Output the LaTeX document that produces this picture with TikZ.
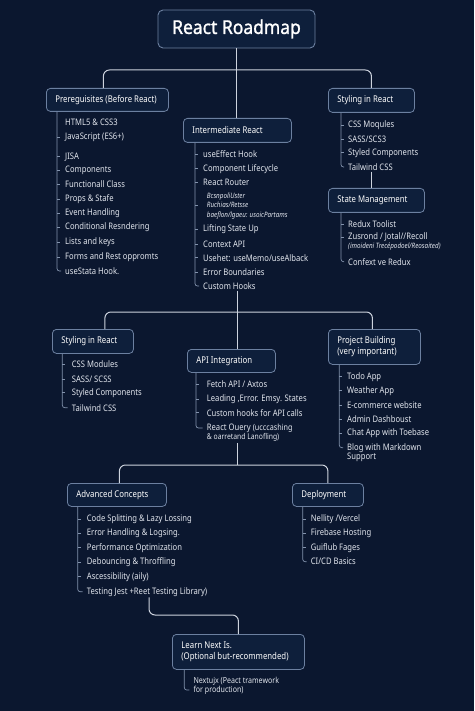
\documentclass[tikz,border=0pt]{standalone}
\usepackage{fontspec}
\setmainfont{Noto Sans}
\newfontfamily\condsans[FakeStretch=0.85]{Noto Sans}
\newfontfamily\topicsans[FakeStretch=0.84]{Noto Sans}
\newfontfamily\headsans[FakeStretch=0.92, FakeBold=1.2]{Noto Sans}
\usetikzlibrary{positioning, calc}
\definecolor{navybg}{RGB}{11,23,47}
\definecolor{boxfill}{RGB}{14,31,59}
\definecolor{boxline}{RGB}{108,128,160}
\definecolor{wireclr}{RGB}{205,211,222}
\definecolor{twigclr}{RGB}{130,146,172}
\definecolor{itemtxt}{RGB}{226,230,238}

\begin{document}
\begin{tikzpicture}[x=1pt, y=-1pt,
    headbox/.style={draw=boxline, line width=0.9pt, fill=boxfill, rounded corners=5pt,
        minimum width=157pt, minimum height=38pt, text=white,
        font=\headsans\fontsize{19}{22}\selectfont},
    topic/.style={draw=boxline, line width=0.8pt, fill=boxfill, rounded corners=4pt,
        anchor=north west, inner xsep=9pt, inner ysep=0pt, align=flush left, text=white,
        font=\topicsans\fontsize{9.3}{11.3}\selectfont},
    item/.style={anchor=west, inner sep=1pt, text=itemtxt, font=\condsans\fontsize{9}{10}\selectfont},
    note/.style={anchor=west, inner sep=1pt, align=left, text=itemtxt,
        font=\condsans\itshape\fontsize{7.4}{9.5}\selectfont},
    small/.style={item, font=\condsans\fontsize{8}{9.5}\selectfont},
    wire/.style={draw=wireclr, line width=1pt, rounded corners=6pt},
    twig/.style={draw=twigclr, line width=0.7pt, rounded corners=2.5pt}
]
\fill[navybg] (0,0) rectangle (474,711);
\useasboundingbox (0,0) rectangle (474,711);

% title and first row
\node[headbox] (ttl) at (236.5,29) {React Roadmap};
\node[topic, text width=104pt, minimum height=23pt] (prq) at (46,88) {Prereguisites (Before React)};
\node[topic, text width=90pt, minimum height=24pt] (int) at (183,118) {Intermediate React};
\node[topic, text width=68pt, minimum height=24pt] (sty1) at (328,88) {Styling in React};
\node[topic, text width=78pt, minimum height=24pt] (stm) at (328,188) {State Management};

\coordinate (hub1) at (237,70);
\draw[wire] (ttl.south) -- (ttl.south |- int.north);
\draw[wire] ([xshift=-4pt]prq.north) |- (hub1) -| (sty1.north);

% prerequisites
\foreach \yy/\txt [count=\i] in {122.7/HTML5 \& CSS3, 137.7/JavaScript (ES6+), 156.7/JISA,
    170/Components, 184/Functionall Class, 199/Props \& Stafe, 213/Event Handling,
    227/Conditional Resndering, 242/Lists and keys, 257/Forms and Rest oppromts, 271/useStata Hook.}
  \node[item] (prq\i) at (64,\yy) {\txt};
\coordinate (prqL) at ([xshift=11pt]prq.south west);
\foreach \i in {2,...,10} \draw[twig] (prqL |- prq\i.west) -- ++(3,0);
\draw[twig] (prqL) |- ([xshift=-3pt]prq11.west);

% intermediate
\foreach \yy/\txt [count=\i] in {154/useEffect Hook, 168.7/Component Lifecycle, 182.7/React Router,
    229/Lifting State Up, 244/Context API, 257.7/{Usehet: useMemo/useAlback},
    272/Error Boundaries, 286/Custom Hooks}
  \node[item] (int\i) at (202,\yy) {\txt};
\node[note] (intn) at (205.7,205.7) {BcsnpoliUster\\Ruchias/Retsse\\baeflon/lgaeu: usoicPartams};
\coordinate (intL) at ([xshift=12pt]int.south west);
\foreach \i in {1,...,7} \draw[twig] (intL |- int\i.west) -- ++(3,0);
\draw[twig] (intL |- intn.west) -- ++(3,0);
\draw[twig] (intL) |- ([xshift=-3pt]int8.west);

% styling (top)
\foreach \yy/\txt [count=\i] in {125/CSS Moqules, 139/{SASS/SCS3}, 152.7/Styled Components, 167/Tailwind CSS}
  \node[item] (sty1\i) at (347,\yy) {\txt};
\coordinate (sty1L) at ([xshift=13pt]sty1.south west);
\foreach \i in {1,...,3} \draw[twig] (sty1L |- sty1\i.west) -- ++(3,0);
\draw[twig] (sty1L) |- ([xshift=-3pt]sty14.west);
\draw[wire] (sty14.south -| sty1.south) -- (stm.north -| sty1.south);

% state management
\foreach \yy/\txt [count=\i] in {224/Redux Toolist, 237/{Zusrond / Jotal//Recoll}, 261.7/Confext ve Redux}
  \node[item] (stm\i) at (347,\yy) {\txt};
\node[note] (stmn) at (347,246.7) {(imoideni Trecépodoel/Reosaited)};
\coordinate (stmL) at ([xshift=13pt]stm.south west);
\foreach \i in {1,2} \draw[twig] (stmL |- stm\i.west) -- ++(3,0);
\draw[twig] (stmL) |- ([xshift=-3pt]stm3.west);

% second row
\node[topic, text width=63pt, minimum height=24pt] (sty2) at (52,329) {Styling in React};
\node[topic, text width=70pt, minimum height=23pt] (api) at (187,349) {API Integration};
\node[topic, text width=74pt, minimum height=35pt] (prj) at (328,329) {Project Building\\(very important)};

\coordinate (hub2) at (237,312);
\draw[wire] (int8.south -| hub2) -- (api.north -| hub2);
\draw[wire] ([xshift=12pt]sty2.north) |- (hub2) -| ([xshift=-2pt]prj.north);

\foreach \yy/\txt [count=\i] in {364/CSS Modules, 379/{SASS/ SCSS}, 392.7/Styled Components, 407.7/Tailwind CSS}
  \node[item] (sty2\i) at (70.7,\yy) {\txt};
\coordinate (sty2L) at ([xshift=10.3pt]sty2.south west);
\foreach \i in {1,...,3} \draw[twig] (sty2L |- sty2\i.west) -- ++(3,0);
\draw[twig] (sty2L) |- ([xshift=-3pt]sty24.west);

\foreach \yy/\txt [count=\i] in {384/{Fetch API / Axtos}, 399/{Leading ,Error. Emsy. States},
    412.7/Custom hooks for API calls, 428/React Ouery {\fontsize{8.5}{9.5}\selectfont(ucccashing}}
  \node[item] (api\i) at (205.7,\yy) {\txt};
\node[small] (api5) at (205.7,437.7) {\& oarretand Lanofling)};
\coordinate (apiL) at ([xshift=9pt]api.south west);
\foreach \i in {1,...,3} \draw[twig] (apiL |- api\i.west) -- ++(3,0);
\draw[twig] (apiL) |- ([xshift=-3pt]api4.west);

\foreach \yy/\txt [count=\i] in {376.7/Todo App, 390.7/Weather App, 405/E-commerce website,
    419/Admin Dashboust, 433.3/Chat App with Toebase, 447.7/Blog with Markdown}
  \node[item] (prj\i) at (346,\yy) {\txt};
\node[item] (prj7) at (346,457.3) {Support};
\coordinate (prjL) at ([xshift=11.3pt]prj.south west);
\foreach \i in {1,...,5} \draw[twig] (prjL |- prj\i.west) -- ++(3,0);
\draw[twig] (prjL) |- ([xshift=-3pt]prj6.west);

% third row
\node[topic, text width=81pt, minimum height=23pt] (adv) at (67,483) {Advanced Concepts};
\node[topic, text width=53pt, minimum height=23pt] (dep) at (292,483) {Deployment};

\coordinate (hub3) at (237,465);
\draw[wire] (api5.south -| hub3) -- (hub3);
\draw[wire] ([xshift=2.5pt]adv.north) |- (hub3) -| (dep.north);

\foreach \yy/\txt [count=\i] in {519.3/Code Splitting \& Lazy Lossing, 533.3/Error Handling \& Logsing.,
    547.7/Performance Optimization, 562.3/Debouncing \& Throffling, 576.7/Ascessibility (aily),
    591.7/Testing Jest +Reet Testing Library)}
  \node[item] (adv\i) at (85.7,\yy) {\txt};
\coordinate (advL) at ([xshift=10.7pt]adv.south west);
\foreach \i in {1,...,5} \draw[twig] (advL |- adv\i.west) -- ++(3,0);
\draw[twig] (advL) |- ([xshift=-3pt]adv6.west);

\foreach \yy/\txt [count=\i] in {519.3/{Nellity /Vercel}, 533.3/Firebase Hosting, 547.7/Guiflub Fages, 561.7/{CI/CD Basics}}
  \node[item] (dep\i) at (309.7,\yy) {\txt};
\coordinate (depL) at ([xshift=10.7pt]dep.south west);
\foreach \i in {1,...,3} \draw[twig] (depL |- dep\i.west) -- ++(3,0);
\draw[twig] (depL) |- ([xshift=-3pt]dep4.west);

% next.js
\node[topic, text width=114pt, minimum height=35pt] (nxt) at (172,634) {Learn Next Is.\\(Optional but-recommended)};
\coordinate (bend) at (149,615);
\draw[wire] (adv6.south -| bend) -- (bend) -| (nxt.north);

\node[small, font=\condsans\fontsize{8.3}{9.5}\selectfont] (nxt1) at (192.3,681) {Nextujx (Peact tramework};
\node[small, font=\condsans\fontsize{8.3}{9.5}\selectfont] (nxt2) at (192.3,690) {for production)};
\coordinate (nxtL) at ([xshift=12.3pt]nxt.south west);
\draw[twig] (nxtL) |- ([xshift=-3pt]nxt2.west);
\end{tikzpicture}
\end{document}
